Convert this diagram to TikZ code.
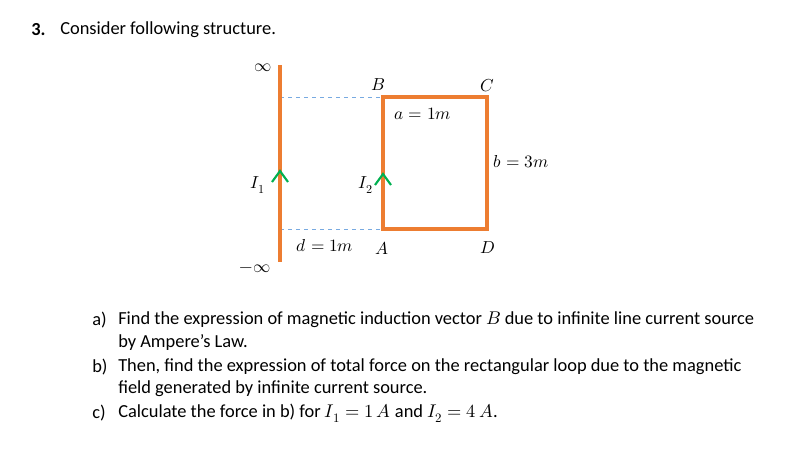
\documentclass[tikz,border=0pt]{standalone}
\usepackage{fontspec}
\setmainfont{Carlito}
\usepackage{unicode-math}
\setmathfont{Latin Modern Math}
\begin{document}
\begin{tikzpicture}[x=0.75pt,y=-0.75pt,
  wire/.style={line width=2.6pt},
  dsh/.style={dashed,line width=0.7pt},
  arr/.style={line width=1.6pt},
  txt/.style={font=\fontsize{13.8}{16}\selectfont,anchor=west,inner sep=0},
  lab/.style={font=\fontsize{13}{15}\selectfont,inner sep=0}]
\useasboundingbox (0,0) rectangle (809,457);
\definecolor{wc}{RGB}{237,125,49}
\definecolor{dc}{RGB}{120,170,225}
\definecolor{gc}{RGB}{0,176,80}
\coordinate (wt) at (280,65); \coordinate (wb) at (280,262);
\coordinate (A) at (383,229); \coordinate (B) at (383,97);
\coordinate (C) at (487,97); \coordinate (D) at (487,229);
\draw[dsh,draw=dc] (280,97) -- (B);
\draw[dsh,draw=dc] (280,229) -- (A);
\draw[wire,draw=wc] (wt) -- (wb);
\draw[wire,draw=wc] (A) -- (B) -- (C) -- (D) -- cycle;
\draw[arr,draw=gc] (272,182) -- (280,171) -- (288,182);
\draw[arr,draw=gc] (375,185) -- (383,174) -- (391,185);
\node[lab] at (263,68) {$\infty$};
\node[lab] at (255,269) {$-\infty$};
\node[lab] at (378,85) {$B$};
\node[lab] at (487,86) {$C$};
\node[lab] at (423,114) {$a=1m$};
\node[lab] at (521,162) {$b=3m$};
\node[lab] at (258,185) {$I_1$};
\node[lab] at (366,185) {$I_2$};
\node[lab] at (325,246) {$d=1m$};
\node[lab] at (382,248) {$A$};
\node[lab] at (488,248) {$D$};
\node[txt,font=\fontsize{13.8}{16}\selectfont\bfseries] at (31,30) {3.};
\node[txt] at (60,30) {Consider following structure.};
\node[txt] at (92,320) {a)};
\node[txt] at (118,320) {Find the expression of magnetic induction vector $B$ due to infinite line current source};
\node[txt] at (118,342) {by Ampere’s Law.};
\node[txt] at (92,367) {b)};
\node[txt] at (118,367) {Then, find the expression of total force on the rectangular loop due to the magnetic};
\node[txt] at (118,389) {field generated by infinite current source.};
\node[txt] at (92,413) {c)};
\node[txt] at (118,413) {Calculate the force in b) for $I_1=1\,A$ and $I_2=4\,A$.};
\end{tikzpicture}
\end{document}
